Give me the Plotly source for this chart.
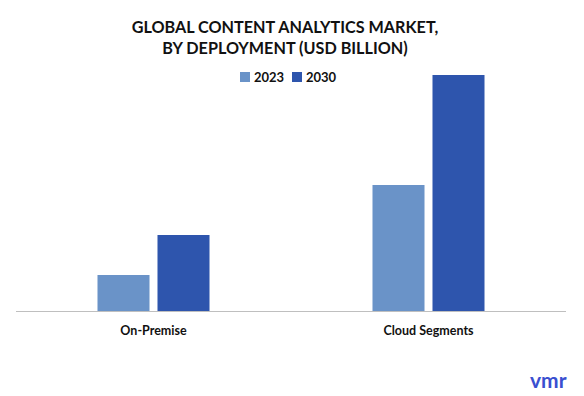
import plotly.graph_objects as go

categories = ["On-Premise", "Cloud Segments"]
years = ["2023", "2030"]
values_2023 = [1.53, 5.34]
values_2030 = [3.22, 10.0]
colors = ["#6a93c8", "#2e55ad"]

L, R, T, B = 16, 18, 75, 85
W, H = 584, 396
PW, PH = W - L - R, H - T - B


def px(x):
    return (x - L) / PW


def py(y):
    return (H - B - y) / PH


fig = go.Figure()
for name, vals, c in zip(years, [values_2023, values_2030], colors):
    fig.add_trace(go.Bar(x=categories, y=vals, name=name, marker_color=c,
                         marker_line_width=0))

fig.update_layout(
    width=W, height=H,
    paper_bgcolor="white", plot_bgcolor="white",
    margin=dict(l=L, r=R, t=T, b=B),
    barmode="group", bargap=0.5636, bargroupgap=0.133,
    font=dict(family="Lato", color="#111111"),
    title=dict(text="<b>GLOBAL CONTENT ANALYTICS MARKET,<br>BY DEPLOYMENT (USD BILLION)</b>",
               x=px(285), xanchor="center", xref="paper", y=(H - 33) / H, yanchor="top",
               font=dict(size=16.2, family="Lato", color="#111111")),
    showlegend=False,
)
fig.update_xaxes(showline=True, linecolor="#bfbfbf", linewidth=1, ticks="",
                 tickvals=categories, ticktext=["<b>" + c + "</b>" for c in categories],
                 tickfont=dict(size=12.5, family="Lato", color="#111111"),
                 ticklabelstandoff=8)
fig.update_yaxes(visible=False, range=[0, 10.0])

# legend (manual)
legend_items = [(years[0], colors[0], 240), (years[1], colors[1], 292)]
for label, c, x0 in legend_items:
    fig.add_shape(type="rect", xref="paper", yref="paper",
                  x0=px(x0), x1=px(x0 + 10), y0=py(82), y1=py(72),
                  fillcolor=c, line_width=0)
    fig.add_annotation(text="<b>" + label + "</b>", xref="paper", yref="paper",
                       x=px(x0 + 12), y=py(77), xanchor="left", yanchor="middle",
                       showarrow=False, font=dict(size=13, family="Lato", color="#111111"))

fig.add_annotation(text="<b>vmr</b>", xref="paper", yref="paper", x=px(548), y=py(379),
                   xanchor="center", yanchor="middle", showarrow=False,
                   font=dict(size=21, family="Lato", color="#3a4fd0"))

fig.write_html("out.html", config={"displayModeBar": False},
               post_script="document.body.style.margin='0';")
